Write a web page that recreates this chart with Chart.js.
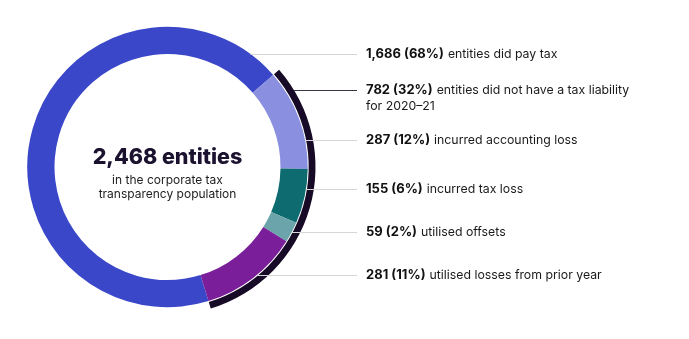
<!DOCTYPE html>
<html lang="en">
<head>
  <meta charset="UTF-8" />
  <title>Corporate tax transparency population</title>
  <style>
    body { margin: 0; background: #fff; }
    #wrap { position: relative; width: 689px; height: 339px; }
    canvas { display: block; }
  </style>
</head>
<body>
<div id="wrap">
  <canvas id="donut" width="689" height="339"></canvas>
</div>

<script src="https://cdn.jsdelivr.net/npm/chart.js"></script>
<script>
// data
const totalEntities = 2468;
const groupLabels = ['Did pay tax', 'No tax liability'];
const groupValues = [1686, 782];
const segmentLabels = ['Did pay tax', 'Incurred accounting loss', 'Incurred tax loss', 'Utilised offsets', 'Utilised losses from prior year'];
const segmentValues = [1686, 287, 155, 59, 281];
const segmentColors = ['#3a47c9', '#8a8fdf', '#0e6b6f', '#6ba5ab', '#7a1f99'];

// right hand notes
const noteCounts = ['1,686', '782', '287', '155', '59', '281'];
const notePercents = ['68%', '32%', '12%', '6%', '2%', '11%'];
const noteTexts = [
  ['entities did pay tax'],
  ['entities did not have a tax liability', 'for 2020\u201321'],
  ['incurred accounting loss'],
  ['incurred tax loss'],
  ['utilised offsets'],
  ['utilised losses from prior year']
];

// layout of the notes (pixels)
const noteY = [54, 90, 140, 189, 232, 275];
const noteDark = [false, true, false, false, false, false];
const FONT = 'Inter, "Noto Sans", sans-serif';

const notesPlugin = {
  id: 'notes',
  afterDatasetsDraw(chart) {
    const ctx = chart.ctx;
    const arcOuter = chart.getDatasetMeta(0).data[1];
    const arcMain = chart.getDatasetMeta(2).data[0];
    const cx = arcMain.x, cy = arcMain.y;
    const rMain = arcMain.outerRadius;
    const rDark = arcOuter.outerRadius;
    const lineEnd = 357, textX = 366;

    ctx.save();
    // leader lines
    noteY.forEach((y, i) => {
      const r = noteDark[i] ? rDark : rMain;
      const dy = y - cy;
      const x0 = cx + Math.sqrt(Math.max(r * r - dy * dy, 0));
      ctx.beginPath();
      ctx.lineWidth = 1;
      ctx.strokeStyle = noteDark[i] ? '#3a3545' : '#d6d6d6';
      ctx.moveTo(x0, Math.round(y) + 0.5);
      ctx.lineTo(lineEnd, Math.round(y) + 0.5);
      ctx.stroke();
    });

    // note text
    ctx.textBaseline = 'middle';
    ctx.textAlign = 'left';
    noteY.forEach((y, i) => {
      const bold = noteCounts[i] + ' (' + notePercents[i] + ')';
      ctx.font = '700 13px ' + FONT;
      ctx.fillStyle = '#111111';
      ctx.fillText(bold, textX, y);
      const w = ctx.measureText(bold).width + 4;
      ctx.font = '400 12.3px ' + FONT;
      ctx.fillStyle = '#1a1a1a';
      noteTexts[i].forEach((t, j) => {
        if (j === 0) ctx.fillText(t, textX + w, y);
        else ctx.fillText(t, textX, y + 16 * j);
      });
    });

    // centre text
    ctx.textAlign = 'center';
    ctx.fillStyle = '#1b1230';
    ctx.font = '800 21.5px ' + FONT;
    ctx.fillText(totalEntities.toLocaleString('en-AU') + ' entities', cx, 158);
    ctx.fillStyle = '#222222';
    ctx.font = '400 12px ' + FONT;
    ctx.fillText('in the corporate tax', cx, 180);
    ctx.fillText('transparency population', cx, 194);
    ctx.restore();
  }
};

new Chart(document.getElementById('donut'), {
  type: 'doughnut',
  data: {
    labels: segmentLabels,
    datasets: [
      {
        label: 'Groups',
        data: groupValues,
        backgroundColor: ['rgba(0,0,0,0)', '#170a26'],
        borderWidth: 0,
        weight: 7
      },
      {
        label: 'gap',
        data: [totalEntities],
        backgroundColor: ['rgba(0,0,0,0)'],
        borderWidth: 0,
        weight: 1
      },
      {
        label: 'Entities',
        data: segmentValues,
        backgroundColor: segmentColors,
        borderWidth: 0,
        weight: 28
      }
    ]
  },
  options: {
    responsive: false,
    animation: false,
    rotation: 163,
    radius: 148,
    cutout: '76.35%',
    layout: { padding: { left: 17.5, top: 17, right: 371.5, bottom: 22 } },
    plugins: {
      legend: { display: false },
      tooltip: { enabled: false }
    },
    events: []
  },
  plugins: [notesPlugin]
});
</script>
</body>
</html>
